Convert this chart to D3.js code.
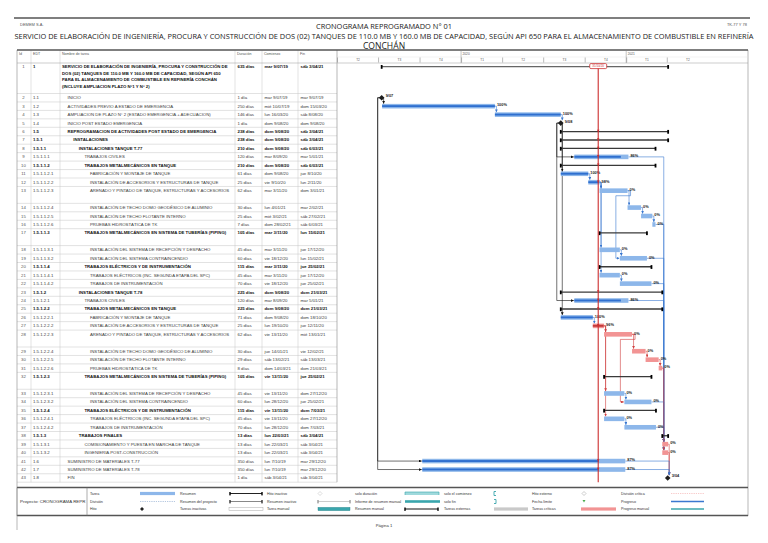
<!DOCTYPE html>
<html>
<head>
<meta charset="utf-8">
<script src="https://cdn.jsdelivr.net/npm/d3@7"></script>
<style>
  body { margin: 0; background: #fff; }
  svg { display: block; }
</style>
</head>
<body>
<script>
const edt = ["1","1.1","1.2","1.3","1.4","1.5","1.5.1","1.5.1.1","1.5.1.1.1","1.5.1.1.2",
  "1.5.1.1.2.1","1.5.1.1.2.2","1.5.1.1.2.3","1.5.1.1.2.4","1.5.1.1.2.5","1.5.1.1.2.6",
  "1.5.1.1.3","1.5.1.1.3.1","1.5.1.1.3.2","1.5.1.1.4","1.5.1.1.4.1","1.5.1.1.4.2",
  "1.5.1.2","1.5.1.2.1","1.5.1.2.2","1.5.1.2.2.1","1.5.1.2.2.2","1.5.1.2.2.3","1.5.1.2.2.4",
  "1.5.1.2.2.5","1.5.1.2.2.6","1.5.1.2.3","1.5.1.2.3.1","1.5.1.2.3.2","1.5.1.2.4",
  "1.5.1.2.4.1","1.5.1.2.4.2","1.5.1.3","1.5.1.3.1","1.5.1.3.2","1.6","1.7","1.8"];

const names = [
  "SERVICIO DE ELABORACIÓN DE INGENIERÍA, PROCURA Y CONSTRUCCIÓN DE\nDOS (02) TANQUES DE 110.0 MB Y 160.0 MB DE CAPACIDAD, SEGÚN API 650\nPARA EL ALMACENAMIENTO DE COMBUSTIBLE EN REFINERÍA CONCHÁN\n(INCLUYE AMPLIACION PLAZO N°1 Y N° 2)",
  "INICIO",
  "ACTIVIDADES PREVIO A ESTADO DE EMERGENCIA",
  "AMPLIACION DE PLAZO N° 2 (ESTADO EMERGENCIA + ADECUACION)",
  "INICIO POST ESTADO EMERGENCIA",
  "REPROGRAMACION DE ACTIVIDADES POST ESTADO DE EMERGENCIA",
  "INSTALACIONES",
  "INSTALACIONES TANQUE T-77",
  "TRABAJOS CIVILES",
  "TRABAJOS METALMECÁNICOS EN TANQUE",
  "FABRICACIÓN Y MONTAJE DE TANQUE",
  "INSTALACIÓN DE ACCESORIOS Y ESTRUCTURAS DE TANQUE",
  "ARENADO Y PINTADO DE TANQUE, ESTRUCTURAS Y ACCESORIOS",
  "INSTALACIÓN DE TECHO DOMO GEODÉSICO DE ALUMINIO",
  "INSTALACIÓN DE TECHO FLOTANTE INTERNO",
  "PRUEBAS HIDROSTÁTICA DE TK",
  "TRABAJOS METALMECÁNICOS EN SISTEMA DE TUBERÍAS (PIPING)",
  "INSTALACIÓN DEL SISTEMA DE RECEPCIÓN Y DESPACHO",
  "INSTALACIÓN DEL SISTEMA CONTRAINCENDIO",
  "TRABAJOS ELÉCTRICOS Y DE INSTRUMENTACIÓN",
  "TRABAJOS ELÉCTRICOS (INC. SEGUNDA ETAPA DEL SPC)",
  "TRABAJOS DE INSTRUMENTACIÓN",
  "INSTALACIONES TANQUE T-78",
  "TRABAJOS CIVILES",
  "TRABAJOS METALMECÁNICOS EN TANQUE",
  "FABRICACIÓN Y MONTAJE DE TANQUE",
  "INSTALACIÓN DE ACCESORIOS Y ESTRUCTURAS DE TANQUE",
  "ARENADO Y PINTADO DE TANQUE, ESTRUCTURAS Y ACCESORIOS",
  "INSTALACIÓN DE TECHO DOMO GEODÉSICO DE ALUMINIO",
  "INSTALACIÓN DE TECHO FLOTANTE INTERNO",
  "PRUEBAS HIDROSTÁTICA DE TK",
  "TRABAJOS METALMECÁNICOS EN SISTEMA DE TUBERÍAS (PIPING)",
  "INSTALACIÓN DEL SISTEMA DE RECEPCIÓN Y DESPACHO",
  "INSTALACIÓN DEL SISTEMA CONTRAINCENDIO",
  "TRABAJOS ELÉCTRICOS Y DE INSTRUMENTACIÓN",
  "TRABAJOS ELÉCTRICOS (INC. SEGUNDA ETAPA DEL SPC)",
  "TRABAJOS DE INSTRUMENTACIÓN",
  "TRABAJOS FINALES",
  "COMISIONAMIENTO Y PUESTA EN MARCHA DE TANQUE",
  "INGENIERÍA POST-CONSTRUCCIÓN",
  "SUMINISTRO DE MATERIALES T-77",
  "SUMINISTRO DE MATERIALES T-78",
  "FIN"];

const durations = [635,1,250,146,1,238,238,210,120,210,61,25,62,30,25,7,105,45,60,115,45,70,
  225,120,225,71,25,62,30,29,8,105,45,60,115,45,70,13,13,13,350,350,1];

const starts = ["2019-07-09","2019-07-09","2019-07-10","2020-03-16","2020-08-09","2020-08-09",
  "2020-08-09","2020-08-09","2020-09-08","2020-08-09","2020-08-09","2020-10-09","2020-11-03",
  "2021-01-04","2021-02-03","2021-02-28","2020-11-03","2020-11-03","2020-12-18","2020-11-03",
  "2020-11-03","2020-12-18","2020-08-09","2020-09-08","2020-08-09","2020-08-09","2020-10-19",
  "2020-11-13","2021-01-14","2021-02-13","2021-03-14","2020-11-13","2020-11-13","2020-12-28",
  "2020-11-13","2020-11-13","2020-12-28","2021-03-22","2021-03-22","2021-03-22","2019-10-07",
  "2019-10-07","2021-04-03"];

const ends = ["2021-04-03","2019-07-09","2020-03-15","2020-08-08","2020-08-09","2021-04-03",
  "2021-04-03","2021-03-06","2021-01-05","2021-03-06","2020-10-08","2020-11-02","2021-01-03",
  "2021-02-02","2021-02-27","2021-03-06","2021-02-15","2020-12-17","2021-02-15","2021-02-25",
  "2020-12-17","2021-02-25","2021-03-21","2021-01-05","2021-03-21","2020-10-18","2020-11-12",
  "2021-01-13","2021-02-12","2021-03-13","2021-03-21","2021-02-25","2020-12-27","2021-02-25",
  "2021-03-07","2020-12-27","2021-03-07","2021-04-03","2021-04-03","2021-04-03","2020-12-29",
  "2020-12-29","2021-04-03"];

// s = resumen, t = tarea, m = hito
const kinds = ["s","m","t","t","m","s","s","s","t","s","t","t","t","t","t","t","s","t","t","s",
  "t","t","s","t","s","t","t","t","t","t","t","s","t","t","s","t","t","s","t","t","t","t","m"];

const percents = [null,null,100,100,null,null,null,null,86,null,100,98,0,0,0,0,null,0,0,null,
  0,0,null,86,null,100,96,0,0,0,0,null,0,0,null,0,0,null,0,0,87,87,null];

const criticalIds = [27,28,29,30,31,39,40];

// [predecesora, sucesora]
const linksFS = [[2,3],[3,4],[4,5],[5,11],[5,26],[11,12],[12,13],[13,14],[14,15],[15,16],
  [12,18],[18,19],[13,19],[12,21],[21,22],[26,27],[27,28],[28,29],[29,30],[30,31],[27,33],
  [33,34],[28,34],[27,36],[36,37],[9,39],[16,39],[19,39],[22,39],[31,39],[24,40],[34,40],
  [37,40],[31,40],[39,43],[40,43],[41,43],[42,43]];
const linksSS = [[2,41],[2,42],[5,9],[5,24]];

const statusDate = "2020-10-31";
const statusLabel = "31/10/20";

const legendLabels = [
  ["Tarea","División","Hito"],
  ["Resumen","Resumen del proyecto","Tareas inactivas"],
  ["Hito inactivo","Resumen inactivo","Tarea manual"],
  ["solo duración","Informe de resumen manual","Resumen manual"],
  ["solo el comienzo","solo fin","Tareas externas"],
  ["Hito externo","Fecha límite","Tareas críticas"],
  ["División crítica","Progreso","Progreso manual"]];

// ---- layout ----
const W = 768, H = 543;
const col = { left: 17, edt: 31, name: 60, dur: 235, start: 262, end: 298, gantt: 337, right: 748 };
const headTop = 50, headMid = 57, headBot = 63;
const unit = 8.45, row1H = 30.5;
const tallRows = [13, 17, 28, 32];

const BLUE = "#8db7ea", BLUE_DK = "#2f6fcf", RED = "#f29494", RED_DK = "#c43a3a";
const LINK_BLUE = "#3a78d0", LINK_RED = "#d04040", STATUS = "#cc2f2f", TEAL = "#3aa6ad";
const SANS = "Liberation Sans, Arial, sans-serif";
const TITLE = "Liberation Sans Narrow, Open Sans, Noto Sans, sans-serif";

const locale = d3.timeFormatLocale({
  dateTime: "%x %X", date: "%d/%m/%Y", time: "%H:%M:%S", periods: ["AM", "PM"],
  days: ["domingo","lunes","martes","miércoles","jueves","viernes","sábado"],
  shortDays: ["dom","lun","mar","mié","jue","vie","sáb"],
  months: ["enero","febrero","marzo","abril","mayo","junio","julio","agosto","septiembre","octubre","noviembre","diciembre"],
  shortMonths: ["ene","feb","mar","abr","may","jun","jul","ago","sep","oct","nov","dic"]
});
const parse = d3.timeParse("%Y-%m-%d");
const cellDate = locale.format("%a %-d/%m/%y");
const msDate = locale.format("%-d/%m");

const rows = names.map((name, i) => ({
  id: i + 1,
  edt: edt[i],
  level: edt[i].split(".").length - 1,
  name,
  dur: durations[i] + (durations[i] === 1 ? " día" : " días"),
  start: parse(starts[i]),
  end: parse(ends[i]),
  kind: kinds[i],
  pct: percents[i],
  crit: criticalIds.includes(i + 1)
}));

let yTop = headBot;
rows.forEach((r, i) => {
  const h = i === 0 ? row1H : (tallRows.includes(r.id) ? 2 : 1) * unit;
  r.top = yTop;
  r.h = h;
  r.cy = i === 0 ? yTop + 3.6 : yTop + unit / 2;
  yTop += h;
});
const tableBottom = yTop;

const x = d3.scaleTime()
  .domain([new Date(2019, 3, 1), new Date(2021, 8, 28)])
  .range([col.gantt, col.right]);

const x0 = r => x(r.start);
const x1 = r => x(d3.timeDay.offset(r.end, 1));

const svg = d3.select("body").append("svg")
  .attr("width", W)
  .attr("height", H)
  .attr("font-family", SANS);

// ---- page heading ----
svg.append("line")
  .attr("x1", 14).attr("x2", 750).attr("y1", 18).attr("y2", 18)
  .attr("stroke", "#555").attr("stroke-width", 1.4);

svg.append("text").attr("x", 20).attr("y", 25.5)
  .attr("font-size", 4).attr("fill", "#555").text("DEMEM S.A.");
svg.append("text").attr("x", 747).attr("y", 25.5).attr("text-anchor", "end")
  .attr("font-size", 4).attr("fill", "#555").text("TK-77 Y 78");

// shrink a heading line until it fits its width
const fitText = (sel, width, size) => {
  sel.attr("font-size", size);
  const len = sel.node().getComputedTextLength();
  if (len > width) sel.attr("font-size", size * width / len);
  return sel;
};

svg.append("text").attr("x", 384).attr("y", 29.2).attr("text-anchor", "middle")
  .attr("font-family", TITLE).attr("fill", "#222")
  .text("CRONOGRAMA REPROGRAMADO N° 01")
  .call(s => fitText(s, 136, 9.6));
svg.append("text").attr("x", 384).attr("y", 39).attr("text-anchor", "middle")
  .attr("font-family", TITLE).attr("fill", "#222")
  .text("SERVICIO DE ELABORACIÓN DE INGENIERÍA, PROCURA Y CONSTRUCCIÓN DE DOS (02) TANQUES DE 110.0 MB Y 160.0 MB DE CAPACIDAD, SEGÚN API 650 PARA EL ALMACENAMIENTO DE COMBUSTIBLE EN REFINERÍA")
  .call(s => fitText(s, 738, 9.4));
svg.append("text").attr("x", 384).attr("y", 48.6).attr("text-anchor", "middle")
  .attr("font-family", TITLE).attr("font-size", 8.6).attr("fill", "#222")
  .text("CONCHÁN");

// ---- table grid ----
const grid = svg.append("g").attr("stroke", "#c4c4c4").attr("stroke-width", 0.5);
grid.selectAll("line.h")
  .data(rows)
  .join("line")
  .attr("x1", col.left).attr("x2", col.gantt)
  .attr("y1", r => r.top + r.h).attr("y2", r => r.top + r.h);
grid.selectAll("line.v")
  .data([col.edt, col.name, col.dur, col.start, col.end])
  .join("line")
  .attr("x1", d => d).attr("x2", d => d)
  .attr("y1", headTop).attr("y2", tableBottom);

svg.append("g").attr("stroke", "#888").attr("stroke-width", 0.6)
  .selectAll("line")
  .data([col.left, col.gantt, col.right])
  .join("line")
  .attr("x1", d => d).attr("x2", d => d)
  .attr("y1", headTop).attr("y2", d => d === col.gantt ? tableBottom : 516);

svg.append("line")
  .attr("x1", col.left).attr("x2", col.right).attr("y1", headBot).attr("y2", headBot)
  .attr("stroke", "#999").attr("stroke-width", 0.5);
svg.append("line")
  .attr("x1", col.gantt).attr("x2", col.right).attr("y1", headMid).attr("y2", headMid)
  .attr("stroke", "#ddd").attr("stroke-width", 0.4);
svg.append("line")
  .attr("x1", col.left).attr("x2", col.right).attr("y1", headTop).attr("y2", headTop)
  .attr("stroke", "#555").attr("stroke-width", 1.4);

// header labels
svg.append("g")
  .attr("font-size", 3.6).attr("fill", "#555")
  .selectAll("text")
  .data([["Id", col.left + 2], ["EDT", col.edt + 2], ["Nombre de tarea", col.name + 2],
         ["Duración", col.dur + 2], ["Comienzo", col.start + 2], ["Fin", col.end + 2]])
  .join("text")
  .attr("x", d => d[1]).attr("y", 55)
  .text(d => d[0]);

// timescale: years on top tier, quarters below
const years = d3.timeYear.range(new Date(2019, 6, 1), new Date(2021, 8, 1));
svg.append("g")
  .selectAll("g")
  .data(years)
  .join("g")
  .call(g => g.append("line")
    .attr("x1", d => x(d)).attr("x2", d => x(d))
    .attr("y1", headTop).attr("y2", headBot)
    .attr("stroke", "#888").attr("stroke-width", 0.5))
  .call(g => g.append("text")
    .attr("x", d => x(d) + 1.5).attr("y", 54.5)
    .attr("font-size", 3.2).attr("fill", "#555")
    .text(d => d.getFullYear()));

const quarters = d3.timeMonth.range(new Date(2019, 3, 1), new Date(2021, 9, 1), 3);
const qAxis = d3.axisBottom(x)
  .tickValues(quarters.slice(0, -1))
  .tickSize(headBot - headMid - 1)
  .tickFormat(d => "T" + (Math.floor(d.getMonth() / 3) + 1));
svg.append("g")
  .attr("transform", `translate(0,${headMid + 0.5})`)
  .call(qAxis)
  .call(g => g.select(".domain").remove())
  .call(g => g.selectAll(".tick line").attr("stroke", "#777").attr("stroke-width", 0.5))
  .call(g => g.selectAll(".tick text")
    .attr("font-family", SANS)
    .attr("font-size", 3.2).attr("fill", "#555")
    .attr("x", d => (x(d3.timeMonth.offset(d, 3)) - x(d)) / 2)
    .attr("y", 1).attr("dy", "0.75em"));

// ---- table text ----
const cells = svg.append("g").attr("font-size", 4.3);
rows.forEach(r => {
  const weight = r.kind === "s" ? "bold" : "normal";
  const fill = r.kind === "s" ? "#111" : "#3a3a3a";
  const base = r.cy + 1.5;
  const g = cells.append("g").attr("font-weight", weight).attr("fill", fill);
  g.append("text").attr("x", 23.5).attr("y", base).attr("text-anchor", "middle")
    .attr("font-weight", "normal").attr("fill", "#555").text(r.id);
  g.append("text").attr("x", col.edt + 2).attr("y", base).text(r.edt);
  g.append("text").attr("x", col.name + 2 + r.level * 5.6).attr("y", base)
    .selectAll("tspan")
    .data(r.name.split("\n"))
    .join("tspan")
    .attr("x", col.name + 2 + r.level * 5.6)
    .attr("dy", (d, k) => k === 0 ? 0 : 6.6)
    .text(d => d);
  g.append("text").attr("x", col.dur + 2.5).attr("y", base).text(r.dur);
  g.append("text").attr("x", col.start + 2.5).attr("y", base).text(cellDate(r.start));
  g.append("text").attr("x", col.end + 2.5).attr("y", base).text(cellDate(r.end));
});

// ---- links ----
const defs = svg.append("defs");
[["blue", LINK_BLUE], ["red", LINK_RED], ["black", "#111"]].forEach(([k, c]) => {
  defs.append("marker")
    .attr("id", "arr-" + k)
    .attr("viewBox", "0 0 6 6").attr("refX", 6).attr("refY", 3)
    .attr("markerUnits", "userSpaceOnUse")
    .attr("markerWidth", 2.8).attr("markerHeight", 2.8)
    .attr("orient", "auto")
    .append("path").attr("d", "M0,0L6,3L0,6Z").attr("fill", c);
});

const byId = id => rows[id - 1];
const endX = r => r.kind === "m" ? x(r.start) : x1(r);
const startX = r => r.kind === "m" ? x(r.start) : x0(r);

const linkData = [];
linksFS.forEach(([p, s]) => {
  const a = byId(p), b = byId(s);
  const px = endX(a), sx = startX(b);
  const stop = b.kind === "m" ? 2.8 : 2.4;
  let d;
  if (sx >= px - 0.5) {
    d = `M${px},${a.cy}H${Math.max(sx + 1.5, px + 1)}V${b.cy - stop}`;
  } else {
    d = `M${px},${a.cy}h3V${a.cy + unit * 0.6}H${sx - 4}V${b.cy}H${sx - 0.5}`;
  }
  const color = a.kind === "m" ? "black" : (a.crit ? "red" : "blue");
  linkData.push({ d, color });
});
linksSS.forEach(([p, s]) => {
  const a = byId(p), b = byId(s);
  const px = startX(a), sx = startX(b);
  const vx = Math.min(px, sx) - 4;
  linkData.push({ d: `M${px},${a.cy}H${vx}V${b.cy}H${sx - 0.5}`, color: "black" });
});

svg.append("g")
  .attr("fill", "none").attr("stroke-width", 0.6)
  .selectAll("path")
  .data(linkData)
  .join("path")
  .attr("d", d => d.d)
  .attr("stroke", d => d.color === "red" ? LINK_RED : d.color === "black" ? "#111" : LINK_BLUE)
  .attr("marker-end", d => `url(#arr-${d.color})`);

// ---- bars ----
const bars = svg.append("g");

const summaries = rows.filter(r => r.kind === "s");
bars.selectAll("line.sum")
  .data(summaries)
  .join("line")
  .attr("x1", x0).attr("x2", x1)
  .attr("y1", r => r.cy).attr("y2", r => r.cy)
  .attr("stroke", r => r.id === 1 ? "#666" : "#3a3a3a")
  .attr("stroke-width", 1.3);
bars.selectAll("rect.cap")
  .data(summaries.flatMap(r => [x0(r), x1(r)].map(cx => ({ cx, cy: r.cy }))))
  .join("rect")
  .attr("x", d => d.cx - 0.9).attr("y", d => d.cy - 1.6)
  .attr("width", 1.8).attr("height", 3.8)
  .attr("fill", "#000");

const tasks = rows.filter(r => r.kind === "t");
bars.selectAll("rect.task")
  .data(tasks)
  .join("rect")
  .attr("x", x0).attr("width", r => x1(r) - x0(r))
  .attr("y", r => r.cy - 2.3).attr("height", 4.6)
  .attr("fill", r => r.crit ? RED : BLUE);
bars.selectAll("rect.prog")
  .data(tasks.filter(r => r.pct > 0))
  .join("rect")
  .attr("x", x0).attr("width", r => (x1(r) - x0(r)) * r.pct / 100)
  .attr("y", r => r.cy - 1).attr("height", 1.9)
  .attr("fill", r => r.crit ? RED_DK : BLUE_DK);
bars.selectAll("text.pct")
  .data(tasks)
  .join("text")
  .attr("x", r => x1(r) + 2).attr("y", r => r.cy + 0.3)
  .attr("font-size", 3.9).attr("font-weight", "bold").attr("fill", "#222")
  .text(r => r.pct + "%");

const miles = rows.filter(r => r.kind === "m");
bars.selectAll("path.ms")
  .data(miles)
  .join("path")
  .attr("d", r => { const cx = x(r.start), cy = r.cy; return `M${cx},${cy - 2.8}L${cx + 2.8},${cy}L${cx},${cy + 2.8}L${cx - 2.8},${cy}Z`; })
  .attr("fill", "#1d1d1d");
bars.selectAll("text.ms")
  .data(miles)
  .join("text")
  .attr("x", r => x(r.start) + 4).attr("y", r => r.cy - 0.5)
  .attr("font-size", 3.9).attr("font-weight", "bold").attr("fill", "#222")
  .text(r => msDate(r.start));

// ---- status (progress) line ----
const sx = x(parse(statusDate));
svg.append("line")
  .attr("x1", sx).attr("x2", sx).attr("y1", headBot + 5).attr("y2", tableBottom)
  .attr("stroke", STATUS).attr("stroke-width", 1.1);
svg.append("g")
  .selectAll("path")
  .data(rows.filter(r => r.kind !== "m" && r.id > 1 && x0(r) < sx && x1(r) > sx))
  .join("path")
  .attr("d", r => `M${sx - 1.3},${r.cy - 1.8}L${sx + 1.3},${r.cy - 1.8}L${sx},${r.cy + 0.2}Z`)
  .attr("fill", STATUS);
svg.append("rect")
  .attr("x", sx - 8.5).attr("y", headBot + 0.6).attr("width", 17).attr("height", 5)
  .attr("rx", 1.2).attr("fill", "#fff").attr("stroke", STATUS).attr("stroke-width", 0.8);
svg.append("text")
  .attr("x", sx).attr("y", headBot + 4.3).attr("text-anchor", "middle")
  .attr("font-size", 3).attr("fill", STATUS).text(statusLabel);

// ---- legend ----
const legTop = 487.5, legBot = 515.5;
svg.append("g").attr("stroke", "#555").attr("stroke-width", 1.4)
  .selectAll("line")
  .data([legTop, legBot])
  .join("line")
  .attr("x1", col.left).attr("x2", col.right)
  .attr("y1", d => d).attr("y2", d => d);
svg.append("line")
  .attr("x1", 87).attr("x2", 87).attr("y1", legTop).attr("y2", legBot)
  .attr("stroke", "#777").attr("stroke-width", 0.6);
svg.append("line")
  .attr("x1", col.left).attr("x2", col.left).attr("y1", legTop).attr("y2", 530)
  .attr("stroke", "#888").attr("stroke-width", 0.6);
svg.append("text").attr("x", 20).attr("y", 503)
  .attr("font-size", 4.4).attr("fill", "#333").text("Proyecto: CRONOGRAMA REPR");

const legX = [90, 180, 267, 355, 444, 532, 621];
const symX = [140, 230, 318, 405, 494, 582, 671];
const legY = [493.5, 501.5, 509];
const leg = svg.append("g");
legendLabels.forEach((colLabels, c) => {
  colLabels.forEach((lab, k) => {
    leg.append("text").attr("x", legX[c]).attr("y", legY[k] + 1.3)
      .attr("font-size", 3.7).attr("fill", "#333").text(lab);
    const s = leg.append("g").attr("transform", `translate(${symX[c]},${legY[k]})`);
    const key = c + "-" + k;
    const bracket = (w, stroke, cap) => {
      s.append("line").attr("x1", 0).attr("x2", w).attr("y1", 0).attr("y2", 0)
        .attr("stroke", stroke).attr("stroke-width", 1);
      [0, w].forEach(cx => s.append("rect").attr("x", cx - 0.7).attr("y", -1.5)
        .attr("width", 1.4).attr("height", 3.4).attr("fill", cap));
    };
    if (key === "0-0") s.append("rect").attr("y", -1.6).attr("width", 35).attr("height", 3.2).attr("fill", BLUE);
    if (key === "0-1") s.append("line").attr("x2", 35).attr("stroke", "#7b9cc8").attr("stroke-width", 0.8).attr("stroke-dasharray", "0.7 1.1");
    if (key === "0-2") s.append("path").attr("d", "M2,-2L4,0L2,2L0,0Z").attr("fill", "#222");
    if (key === "1-0") bracket(32, "#222", "#000");
    if (key === "1-1") bracket(32, "#888", "#333");
    if (key === "1-2") s.append("rect").attr("x", -1).attr("y", -1.5).attr("width", 34).attr("height", 3).attr("fill", "#fff").attr("stroke", "#aaa").attr("stroke-width", 0.5);
    if (key === "2-0") s.append("path").attr("d", "M2,-2L4,0L2,2L0,0Z").attr("fill", "none").attr("stroke", "#bbb").attr("stroke-width", 0.5);
    if (key === "2-1") bracket(32, "#ccc", "#999");
    if (key === "2-2") s.append("rect").attr("y", -1.6).attr("width", 32).attr("height", 3.2).attr("fill", TEAL).attr("stroke", "#1f7f86").attr("stroke-width", 0.4);
    if (key === "3-0") s.append("path").attr("d", "M0,1.5V-1.5H34V1.5").attr("fill", "#9fd9dc").attr("stroke", TEAL).attr("stroke-width", 0.6);
    if (key === "3-1") s.append("rect").attr("y", -1.3).attr("width", 35).attr("height", 2.6).attr("fill", TEAL);
    if (key === "3-2") bracket(33, "#111", "#000");
    if (key === "4-0") s.append("path").attr("d", "M2,-2H0V2H2").attr("fill", "none").attr("stroke", TEAL).attr("stroke-width", 0.9);
    if (key === "4-1") s.append("path").attr("d", "M0,-2H2V2H0").attr("fill", "none").attr("stroke", TEAL).attr("stroke-width", 0.9);
    if (key === "4-2") s.append("rect").attr("y", -1.6).attr("width", 34).attr("height", 3.2).attr("fill", "#c9c9c9");
    if (key === "5-0") s.append("path").attr("d", "M2,-2L4,0L2,2L0,0Z").attr("fill", "none").attr("stroke", "#999").attr("stroke-width", 0.5);
    if (key === "5-1") s.append("path").attr("d", "M0.5,-1.5H3.5L2,1Z").attr("fill", "#4caf50");
    if (key === "5-2") s.append("rect").attr("x", -1).attr("y", -1.6).attr("width", 35).attr("height", 3.2).attr("fill", RED);
    if (key === "6-0") s.append("line").attr("x2", 33).attr("stroke", "#f2a0a0").attr("stroke-width", 0.8).attr("stroke-dasharray", "0.7 1.1");
    if (key === "6-1") s.append("line").attr("x2", 33).attr("stroke", LINK_BLUE).attr("stroke-width", 1.3);
    if (key === "6-2") s.append("line").attr("x2", 33).attr("stroke", TEAL).attr("stroke-width", 1.3);
  });
});

svg.append("text").attr("x", 384).attr("y", 526.5).attr("text-anchor", "middle")
  .attr("font-size", 4.2).attr("fill", "#333").text("Página 1");
</script>
</body>
</html>
